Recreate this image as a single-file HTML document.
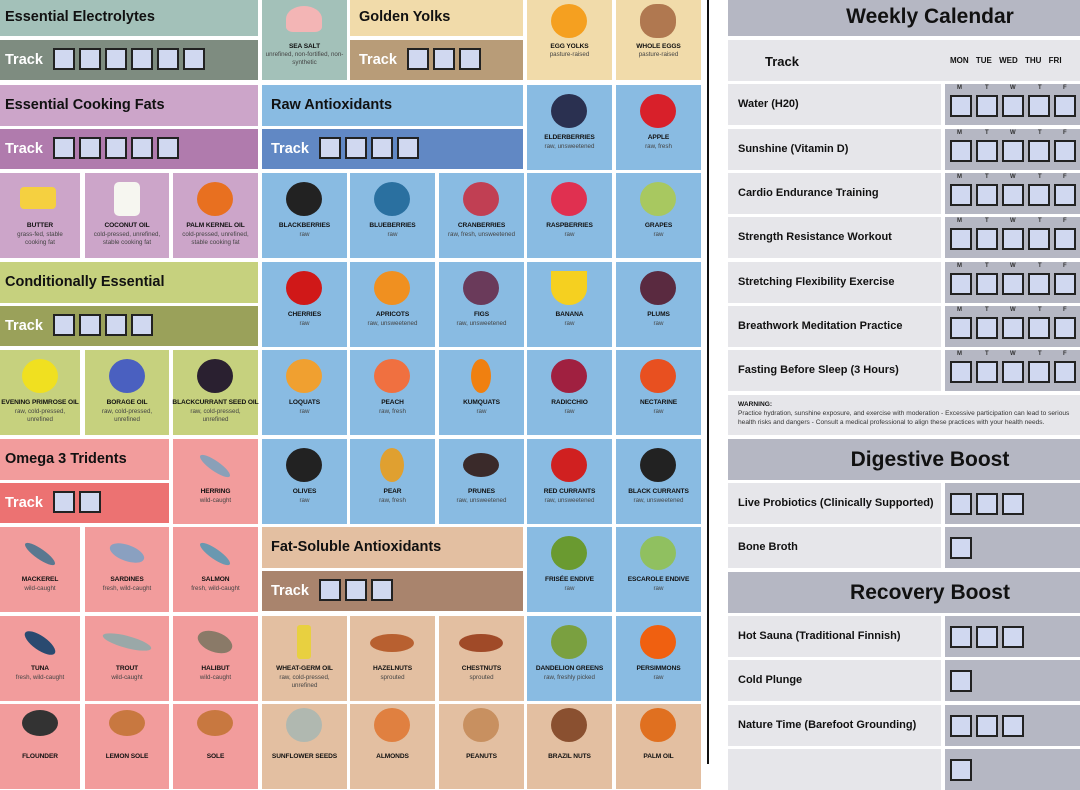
<!DOCTYPE html><html><head><meta charset="utf-8"><style>
*{margin:0;padding:0;box-sizing:border-box}
body{width:1080px;height:764px;background:#fff;position:relative;overflow:hidden;font-family:"Liberation Sans",sans-serif;color:#111}
.c{position:absolute;width:85px;height:85px;text-align:center}
.c i{position:absolute;left:24px;top:9px;width:36px;height:34px;border-radius:50%}
.c b{position:absolute;top:49px;left:-4px;right:-4px;font-size:6.6px;line-height:8px;white-space:nowrap;letter-spacing:-0.1px}
.c u{text-decoration:none;position:absolute;top:58px;left:6px;right:6px;font-size:6.2px;line-height:7.5px;color:#444}
.h{position:absolute;height:41px;font-size:14.5px;font-weight:bold;line-height:41px;padding-left:9px}
.t{position:absolute;height:40px;font-size:14.5px;font-weight:bold;line-height:40px;padding-left:9px;color:#fff}
.t em{display:inline-block;width:22px;height:22px;border:2.5px solid #222;background:#d0d8f0;vertical-align:middle;margin-left:4px;margin-top:-3px}
.t em:first-of-type{margin-left:10px}
.g{background:#a3c1b9}.gt{background:#7e8c80}.y{background:#f1dbaa}.yt{background:#b89c78}
.p{background:#cca5c9}.pt{background:#b07bad}.b{background:#89bbe2}.bt{background:#6188c4}
.l{background:#c6d17e}.lt{background:#9aa15a}.k{background:#f29c9c}.kt{background:#ec7272}
.n{background:#e3bfa1}.nt{background:#a9846d}
.r{position:absolute;left:728px;width:213px;height:41px;background:#e6e6ea;font-size:11px;font-weight:bold;line-height:41px;padding-left:10px}
.q{position:absolute;left:945px;width:135px;height:41px;background:#b5b7c3}
.q em{position:absolute;width:22px;height:22px;border:2.5px solid #222;background:#d0d8f0}
.q span{position:absolute;top:1px;font-size:6px;font-weight:bold;color:#333}
.big{position:absolute;left:728px;width:352px;height:41px;background:#b5b7c3;text-align:center;font-size:21px;font-weight:bold;line-height:41px;padding-left:52px}
</style></head><body>
<div class="h g" style="left:0;top:0;width:258px;height:36px;line-height:34px;padding-left:5px">Essential Electrolytes</div>
<div class="t gt" style="left:0;top:40px;width:258px;padding-left:5px">Track<em></em><em></em><em></em><em></em><em></em><em></em></div>
<div class="h y" style="left:350px;top:0;width:173px;height:36px;line-height:34px">Golden Yolks</div>
<div class="t yt" style="left:350px;top:40px;width:173px">Track<em></em><em></em><em></em></div>
<div class="h p" style="left:0;top:85px;width:258px;padding-left:5px">Essential Cooking Fats</div>
<div class="t pt" style="left:0;top:129px;width:258px;padding-left:5px">Track<em></em><em></em><em></em><em></em><em></em></div>
<div class="h b" style="left:262px;top:85px;width:261px">Raw Antioxidants</div>
<div class="t bt" style="left:262px;top:129px;width:261px">Track<em></em><em></em><em></em><em></em></div>
<div class="h l" style="left:0;top:262px;width:258px;padding-left:5px">Conditionally Essential</div>
<div class="t lt" style="left:0;top:306px;width:258px;padding-left:5px">Track<em></em><em></em><em></em><em></em></div>
<div class="h k" style="left:0;top:439px;width:169px;padding-left:5px">Omega 3 Tridents</div>
<div class="t kt" style="left:0;top:483px;width:169px;padding-left:5px">Track<em></em><em></em></div>
<div class="h n" style="left:262px;top:527px;width:261px">Fat-Soluble Antioxidants</div>
<div class="t nt" style="left:262px;top:571px;width:261px">Track<em></em><em></em><em></em></div>

<div class="c g" style="left:262px;top:0;height:80px"><i style="background:#f3b5b5;border-radius:50% 50% 20% 20%;height:26px;top:6px"></i><b style="top:43px">SEA SALT</b><u style="top:51px;left:2px;right:2px">unrefined, non-fortified, non-synthetic</u></div>
<div class="c y" style="left:527px;top:0;height:80px"><i style="background:#f5a020;top:4px"></i><b style="top:43px">EGG YOLKS</b><u style="top:51px">pasture-raised</u></div>
<div class="c y" style="left:616px;top:0;height:80px"><i style="background:#b07850;top:4px;border-radius:45%"></i><b style="top:43px">WHOLE EGGS</b><u style="top:51px">pasture-raised</u></div>
<div class="c b" style="left:527px;top:85px"><i style="background:#2a3050"></i><b>ELDERBERRIES</b><u>raw, unsweetened</u></div>
<div class="c b" style="left:616px;top:85px"><i style="background:#d8202a"></i><b>APPLE</b><u>raw, fresh</u></div>
<div class="c p" style="left:0;top:173px;width:80px"><i style="background:#f5d040;border-radius:4px;left:20px;height:22px;top:14px"></i><b>BUTTER</b><u>grass-fed, stable cooking fat</u></div>
<div class="c p" style="left:85px;top:173px;width:84px"><i style="background:#f6f6f0;border-radius:5px;width:26px;left:29px"></i><b>COCONUT OIL</b><u>cold-pressed, unrefined, stable cooking fat</u></div>
<div class="c p" style="left:173px;top:173px"><i style="background:#e87020"></i><b>PALM KERNEL OIL</b><u>cold-pressed, unrefined, stable cooking fat</u></div>
<div class="c b" style="left:262px;top:173px"><i style="background:#222"></i><b>BLACKBERRIES</b><u>raw</u></div>
<div class="c b" style="left:350px;top:173px"><i style="background:#2a70a0"></i><b>BLUEBERRIES</b><u>raw</u></div>
<div class="c b" style="left:439px;top:173px"><i style="background:#d02030;opacity:.8"></i><b>CRANBERRIES</b><u style="left:1px;right:1px">raw, fresh, unsweetened</u></div>
<div class="c b" style="left:527px;top:173px"><i style="background:#e03050"></i><b>RASPBERRIES</b><u>raw</u></div>
<div class="c b" style="left:616px;top:173px"><i style="background:#a8c860"></i><b>GRAPES</b><u>raw</u></div>
<div class="c b" style="left:262px;top:262px"><i style="background:#d01818"></i><b>CHERRIES</b><u>raw</u></div>
<div class="c b" style="left:350px;top:262px"><i style="background:#f09020"></i><b>APRICOTS</b><u>raw, unsweetened</u></div>
<div class="c b" style="left:439px;top:262px"><i style="background:#6a3a5a"></i><b>FIGS</b><u>raw, unsweetened</u></div>
<div class="c b" style="left:527px;top:262px"><i style="background:#f5d020;border-radius:0 0 50% 50%"></i><b>BANANA</b><u>raw</u></div>
<div class="c b" style="left:616px;top:262px"><i style="background:#5a2a40"></i><b>PLUMS</b><u>raw</u></div>
<div class="c l" style="left:0;top:350px;width:80px;overflow:hidden"><i style="background:#f0e020;left:22px"></i><b>EVENING PRIMROSE OIL</b><u>raw, cold-pressed, unrefined</u></div>
<div class="c l" style="left:85px;top:350px;width:84px"><i style="background:#4a60c0"></i><b>BORAGE OIL</b><u>raw, cold-pressed, unrefined</u></div>
<div class="c l" style="left:173px;top:350px"><i style="background:#2a2030"></i><b>BLACKCURRANT SEED OIL</b><u>raw, cold-pressed, unrefined</u></div>
<div class="c b" style="left:262px;top:350px"><i style="background:#f0a030"></i><b>LOQUATS</b><u>raw</u></div>
<div class="c b" style="left:350px;top:350px"><i style="background:#f07040"></i><b>PEACH</b><u>raw, fresh</u></div>
<div class="c b" style="left:439px;top:350px"><i style="background:#f08010;width:20px;left:32px"></i><b>KUMQUATS</b><u>raw</u></div>
<div class="c b" style="left:527px;top:350px"><i style="background:#a02040"></i><b>RADICCHIO</b><u>raw</u></div>
<div class="c b" style="left:616px;top:350px"><i style="background:#e85020"></i><b>NECTARINE</b><u>raw</u></div>
<div class="c k" style="left:173px;top:439px"><i style="background:#8aa0b8;height:10px;top:22px;transform:rotate(35deg)"></i><b>HERRING</b><u>wild-caught</u></div>
<div class="c b" style="left:262px;top:439px"><i style="background:#222"></i><b>OLIVES</b><u>raw</u></div>
<div class="c b" style="left:350px;top:439px"><i style="background:#e0a030;width:24px;left:30px"></i><b>PEAR</b><u>raw, fresh</u></div>
<div class="c b" style="left:439px;top:439px"><i style="background:#3a2a2a;height:24px;top:14px"></i><b>PRUNES</b><u>raw, unsweetened</u></div>
<div class="c b" style="left:527px;top:439px"><i style="background:#d02020"></i><b>RED CURRANTS</b><u>raw, unsweetened</u></div>
<div class="c b" style="left:616px;top:439px"><i style="background:#222"></i><b>BLACK CURRANTS</b><u>raw, unsweetened</u></div>
<div class="c k" style="left:0;top:527px;width:80px"><i style="background:#5a7890;height:10px;top:22px;left:22px;transform:rotate(35deg)"></i><b>MACKEREL</b><u>wild-caught</u></div>
<div class="c k" style="left:85px;top:527px;width:84px"><i style="background:#8aa0c0;height:16px;top:18px;transform:rotate(20deg)"></i><b>SARDINES</b><u>fresh, wild-caught</u></div>
<div class="c k" style="left:173px;top:527px"><i style="background:#6a98b0;height:10px;top:22px;transform:rotate(35deg)"></i><b>SALMON</b><u>fresh, wild-caught</u></div>
<div class="c b" style="left:527px;top:527px"><i style="background:#6a9a30"></i><b>FRISÉE ENDIVE</b><u>raw</u></div>
<div class="c b" style="left:616px;top:527px"><i style="background:#90c060"></i><b>ESCAROLE ENDIVE</b><u>raw</u></div>
<div class="c k" style="left:0;top:616px;width:80px"><i style="background:#2a4a70;height:14px;top:20px;left:22px;transform:rotate(35deg)"></i><b>TUNA</b><u>fresh, wild-caught</u></div>
<div class="c k" style="left:85px;top:616px;width:84px"><i style="background:#9aa8a8;height:12px;top:20px;width:50px;left:17px;transform:rotate(15deg)"></i><b>TROUT</b><u>wild-caught</u></div>
<div class="c k" style="left:173px;top:616px"><i style="background:#8a7a68;height:20px;top:16px;transform:rotate(20deg)"></i><b>HALIBUT</b><u>wild-caught</u></div>
<div class="c n" style="left:262px;top:616px"><i style="background:#e8d040;width:14px;left:35px;border-radius:3px"></i><b>WHEAT-GERM OIL</b><u>raw, cold-pressed, unrefined</u></div>
<div class="c n" style="left:350px;top:616px"><i style="background:#b86030;height:18px;top:18px;width:44px;left:20px"></i><b>HAZELNUTS</b><u>sprouted</u></div>
<div class="c n" style="left:439px;top:616px"><i style="background:#a04a28;height:18px;top:18px;width:44px;left:20px"></i><b>CHESTNUTS</b><u>sprouted</u></div>
<div class="c b" style="left:527px;top:616px"><i style="background:#7aa040"></i><b>DANDELION GREENS</b><u>raw, freshly picked</u></div>
<div class="c b" style="left:616px;top:616px"><i style="background:#f06010"></i><b>PERSIMMONS</b><u>raw</u></div>
<div class="c k" style="left:0;top:704px;width:80px"><i style="background:#333;height:26px;top:6px;left:22px"></i><b>FLOUNDER</b></div>
<div class="c k" style="left:85px;top:704px;width:84px"><i style="background:#c87840;height:26px;top:6px"></i><b>LEMON SOLE</b></div>
<div class="c k" style="left:173px;top:704px"><i style="background:#c87840;height:26px;top:6px"></i><b>SOLE</b></div>
<div class="c n" style="left:262px;top:704px"><i style="background:#b0b8b0;top:4px"></i><b>SUNFLOWER SEEDS</b></div>
<div class="c n" style="left:350px;top:704px"><i style="background:#e08040;top:4px"></i><b>ALMONDS</b></div>
<div class="c n" style="left:439px;top:704px"><i style="background:#c89060;top:4px"></i><b>PEANUTS</b></div>
<div class="c n" style="left:527px;top:704px"><i style="background:#8a5030;top:4px"></i><b>BRAZIL NUTS</b></div>
<div class="c n" style="left:616px;top:704px"><i style="background:#e07020;top:4px"></i><b>PALM OIL</b></div>

<div style="position:absolute;left:707px;top:0;width:2px;height:764px;background:#111"></div>

<div class="big" style="top:0;height:36px;line-height:34px">Weekly Calendar</div>
<div style="position:absolute;left:728px;top:40px;width:352px;height:41px;background:#e6e6ea">
<span style="position:absolute;left:37px;top:14px;font-size:13px;font-weight:bold">Track</span>
<span style="position:absolute;left:222px;top:16px;font-size:8px;font-weight:bold;word-spacing:5px">MON TUE WED THU FRI</span></div>

<div class="r" style="top:84px">Water (H20)</div>
<div class="r" style="top:129px">Sunshine (Vitamin D)</div>
<div class="r" style="top:173px">Cardio Endurance Training</div>
<div class="r" style="top:217px">Strength Resistance Workout</div>
<div class="r" style="top:262px">Stretching Flexibility Exercise</div>
<div class="r" style="top:306px">Breathwork Meditation Practice</div>
<div class="r" style="top:350px">Fasting Before Sleep (3 Hours)</div>

<div class="q" style="top:84px"><span style="left:12px">M</span><span style="left:40px">T</span><span style="left:65px">W</span><span style="left:93px">T</span><span style="left:118px">F</span><em style="left:5px;top:11px"></em><em style="left:31px;top:11px"></em><em style="left:57px;top:11px"></em><em style="left:83px;top:11px"></em><em style="left:109px;top:11px"></em></div>
<div class="q" style="top:129px"><span style="left:12px">M</span><span style="left:40px">T</span><span style="left:65px">W</span><span style="left:93px">T</span><span style="left:118px">F</span><em style="left:5px;top:11px"></em><em style="left:31px;top:11px"></em><em style="left:57px;top:11px"></em><em style="left:83px;top:11px"></em><em style="left:109px;top:11px"></em></div>
<div class="q" style="top:173px"><span style="left:12px">M</span><span style="left:40px">T</span><span style="left:65px">W</span><span style="left:93px">T</span><span style="left:118px">F</span><em style="left:5px;top:11px"></em><em style="left:31px;top:11px"></em><em style="left:57px;top:11px"></em><em style="left:83px;top:11px"></em><em style="left:109px;top:11px"></em></div>
<div class="q" style="top:217px"><span style="left:12px">M</span><span style="left:40px">T</span><span style="left:65px">W</span><span style="left:93px">T</span><span style="left:118px">F</span><em style="left:5px;top:11px"></em><em style="left:31px;top:11px"></em><em style="left:57px;top:11px"></em><em style="left:83px;top:11px"></em><em style="left:109px;top:11px"></em></div>
<div class="q" style="top:262px"><span style="left:12px">M</span><span style="left:40px">T</span><span style="left:65px">W</span><span style="left:93px">T</span><span style="left:118px">F</span><em style="left:5px;top:11px"></em><em style="left:31px;top:11px"></em><em style="left:57px;top:11px"></em><em style="left:83px;top:11px"></em><em style="left:109px;top:11px"></em></div>
<div class="q" style="top:306px"><span style="left:12px">M</span><span style="left:40px">T</span><span style="left:65px">W</span><span style="left:93px">T</span><span style="left:118px">F</span><em style="left:5px;top:11px"></em><em style="left:31px;top:11px"></em><em style="left:57px;top:11px"></em><em style="left:83px;top:11px"></em><em style="left:109px;top:11px"></em></div>
<div class="q" style="top:350px"><span style="left:12px">M</span><span style="left:40px">T</span><span style="left:65px">W</span><span style="left:93px">T</span><span style="left:118px">F</span><em style="left:5px;top:11px"></em><em style="left:31px;top:11px"></em><em style="left:57px;top:11px"></em><em style="left:83px;top:11px"></em><em style="left:109px;top:11px"></em></div>

<div style="position:absolute;left:728px;top:395px;width:352px;height:40px;background:#e6e6ea;padding:5px 10px;font-size:6.6px;line-height:9px;white-space:nowrap;overflow:hidden;color:#333"><b style="color:#111">WARNING:</b><br>Practice hydration, sunshine exposure, and exercise with moderation - Excessive participation can lead to serious<br>health risks and dangers - Consult a medical professional to align these practices with your health needs.</div>

<div class="big" style="top:439px">Digestive Boost</div>
<div class="r" style="top:483px">Live Probiotics (Clinically Supported)</div>
<div class="q" style="top:483px"><em style="left:5px;top:10px"></em><em style="left:31px;top:10px"></em><em style="left:57px;top:10px"></em></div>
<div class="r" style="top:527px">Bone Broth</div>
<div class="q" style="top:527px"><em style="left:5px;top:10px"></em></div>
<div class="big" style="top:572px">Recovery Boost</div>
<div class="r" style="top:616px">Hot Sauna (Traditional Finnish)</div>
<div class="q" style="top:616px"><em style="left:5px;top:10px"></em><em style="left:31px;top:10px"></em><em style="left:57px;top:10px"></em></div>
<div class="r" style="top:660px">Cold Plunge</div>
<div class="q" style="top:660px"><em style="left:5px;top:10px"></em></div>
<div class="r" style="top:705px">Nature Time (Barefoot Grounding)</div>
<div class="q" style="top:705px"><em style="left:5px;top:10px"></em><em style="left:31px;top:10px"></em><em style="left:57px;top:10px"></em></div>
<div class="r" style="top:749px"></div>
<div class="q" style="top:749px"><em style="left:5px;top:10px"></em></div>
</body></html>
